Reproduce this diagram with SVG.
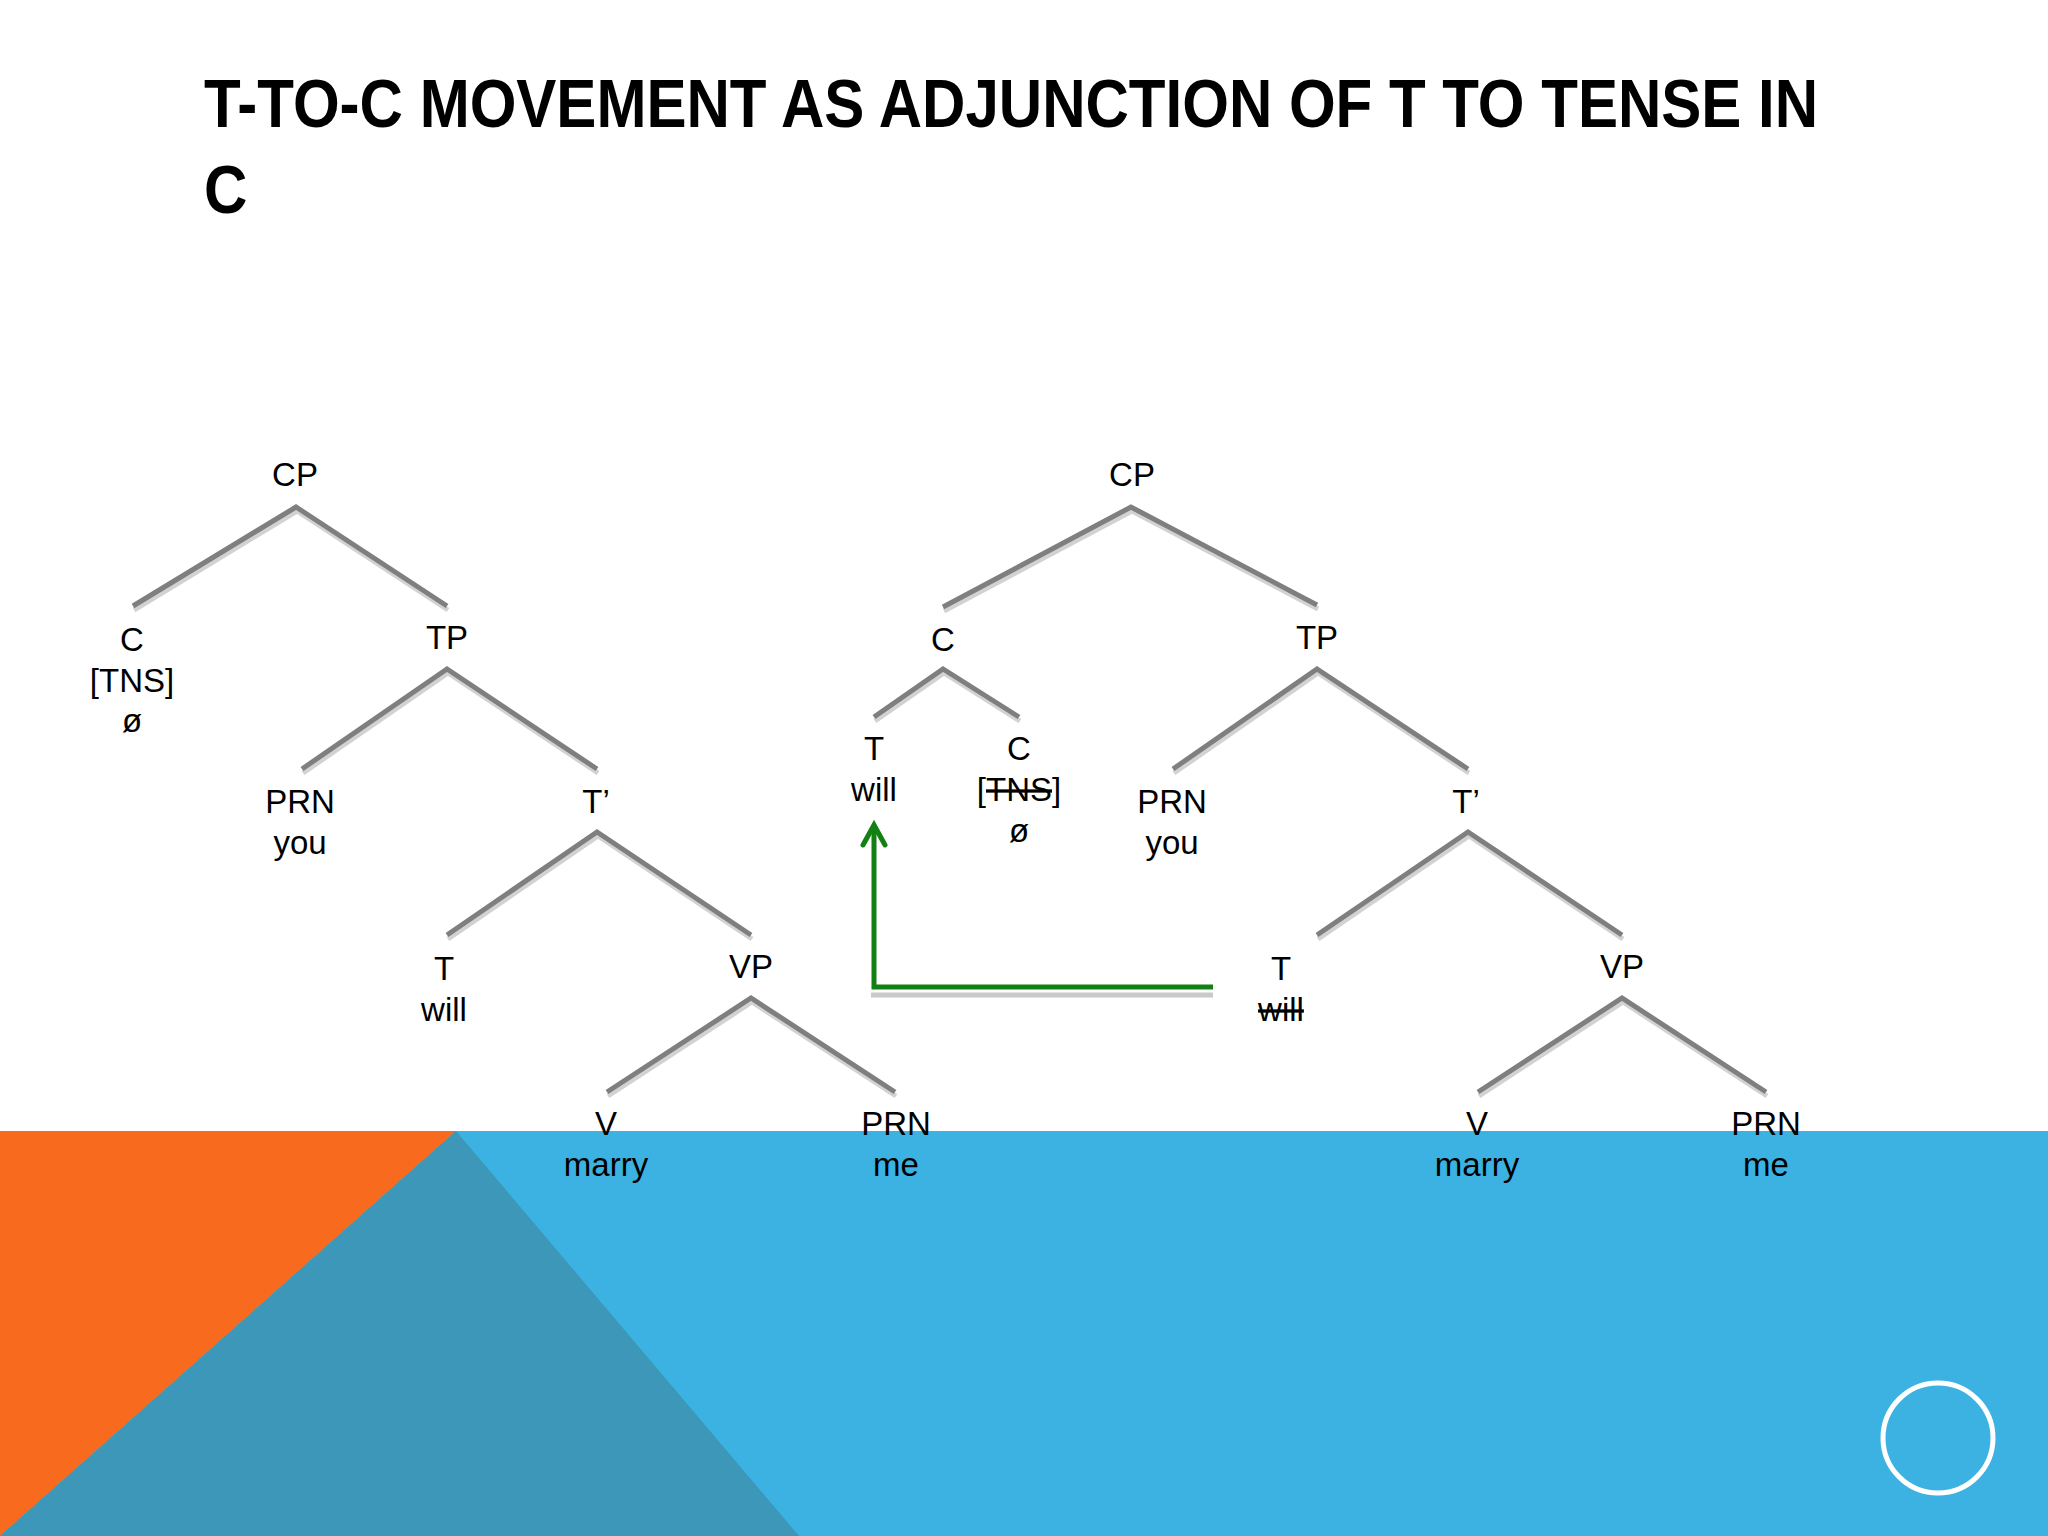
<svg xmlns="http://www.w3.org/2000/svg" xmlns:xlink="http://www.w3.org/1999/xlink" width="2048" height="1536" viewBox="0 0 2048 1536">
<style>
.lbl{font-family:"Liberation Sans",Arial,sans-serif;font-size:33px;fill:#000;text-anchor:middle}
.title{font-family:"Liberation Sans",Arial,sans-serif;font-weight:bold;font-size:68px;fill:#000}
.strike{text-decoration:line-through}
</style>
<defs>
<g id="branches">
<path d="M133 606 L296 507 L447 606"/>
<path d="M302 769 L447 669 L597 769"/>
<path d="M447 935 L597 832 L751 935"/>
<path d="M607 1092 L751 998 L895 1092"/>
<path d="M943 607 L1131 507 L1317 605"/>
<path d="M874 717 L943 669 L1019 717"/>
<path d="M1173 769 L1317 669 L1468 769"/>
<path d="M1317 935 L1468 832 L1622 935"/>
<path d="M1478 1092 L1622 998 L1766 1092"/>
</g>
</defs>
<rect x="0" y="0" width="2048" height="1536" fill="#ffffff"/>
<g id="background">
<rect x="0" y="1131" width="2048" height="405" fill="#3cb2e2"/>
<polygon points="0,1131 456,1131 0,1536" fill="#f86b1e"/>
<polygon points="456,1131 0,1536 799,1536" fill="#3c97b8"/>
<circle cx="1938" cy="1438" r="55" fill="none" stroke="#ffffff" stroke-width="5"/>
</g>
<g id="title" transform="translate(204,0) scale(0.883,1)">
<text class="title" x="0" y="127">T-TO-C MOVEMENT AS ADJUNCTION OF T TO TENSE IN</text>
<text class="title" x="0" y="213">C</text>
</g>
<g id="connectors" fill="none" stroke-width="5" stroke-linecap="butt" stroke-linejoin="miter">
<use xlink:href="#branches" href="#branches" transform="translate(1,4)" stroke="#d2d2d2"/>
<use xlink:href="#branches" href="#branches" stroke="#7f7f7f"/>
<path d="M871 995 H1213" stroke="#c9c9c9"/>
<path d="M1213 987 H874 V826" stroke="#128012" stroke-width="5"/>
<polyline points="863,845 874,825 885,845" stroke="#128012" stroke-width="5" stroke-linecap="round"/>
</g>
<g id="left-tree">
<g id="l-cp"><text class="lbl" x="295" y="486">CP</text></g>
<g id="l-c"><text class="lbl" x="132" y="651">C</text><text class="lbl" x="132" y="692">[TNS]</text><text class="lbl" x="132" y="732">ø</text></g>
<g id="l-tp"><text class="lbl" x="447" y="649">TP</text></g>
<g id="l-prn"><text class="lbl" x="300" y="813">PRN</text><text class="lbl" x="300" y="854">you</text></g>
<g id="l-tbar"><text class="lbl" x="596" y="813">T’</text></g>
<g id="l-t"><text class="lbl" x="444" y="980">T</text><text class="lbl" x="444" y="1021">will</text></g>
<g id="l-vp"><text class="lbl" x="751" y="978">VP</text></g>
<g id="l-v"><text class="lbl" x="606" y="1135">V</text><text class="lbl" x="606" y="1176">marry</text></g>
<g id="l-prn2"><text class="lbl" x="896" y="1135">PRN</text><text class="lbl" x="896" y="1176">me</text></g>
</g>
<g id="right-tree">
<g id="r-cp"><text class="lbl" x="1132" y="486">CP</text></g>
<g id="r-c"><text class="lbl" x="943" y="651">C</text></g>
<g id="r-t-moved"><text class="lbl" x="874" y="760">T</text><text class="lbl" x="874" y="801">will</text></g>
<g id="r-c-head"><text class="lbl" x="1019" y="760">C</text><text class="lbl" x="1019" y="801">[<tspan class="strike">TNS</tspan>]</text><text class="lbl" x="1019" y="842">ø</text></g>
<g id="r-tp"><text class="lbl" x="1317" y="649">TP</text></g>
<g id="r-prn"><text class="lbl" x="1172" y="813">PRN</text><text class="lbl" x="1172" y="854">you</text></g>
<g id="r-tbar"><text class="lbl" x="1466" y="813">T’</text></g>
<g id="r-t"><text class="lbl" x="1281" y="980">T</text><text class="lbl strike" x="1281" y="1021">will</text></g>
<g id="r-vp"><text class="lbl" x="1622" y="978">VP</text></g>
<g id="r-v"><text class="lbl" x="1477" y="1135">V</text><text class="lbl" x="1477" y="1176">marry</text></g>
<g id="r-prn2"><text class="lbl" x="1766" y="1135">PRN</text><text class="lbl" x="1766" y="1176">me</text></g>
</g>
</svg>
